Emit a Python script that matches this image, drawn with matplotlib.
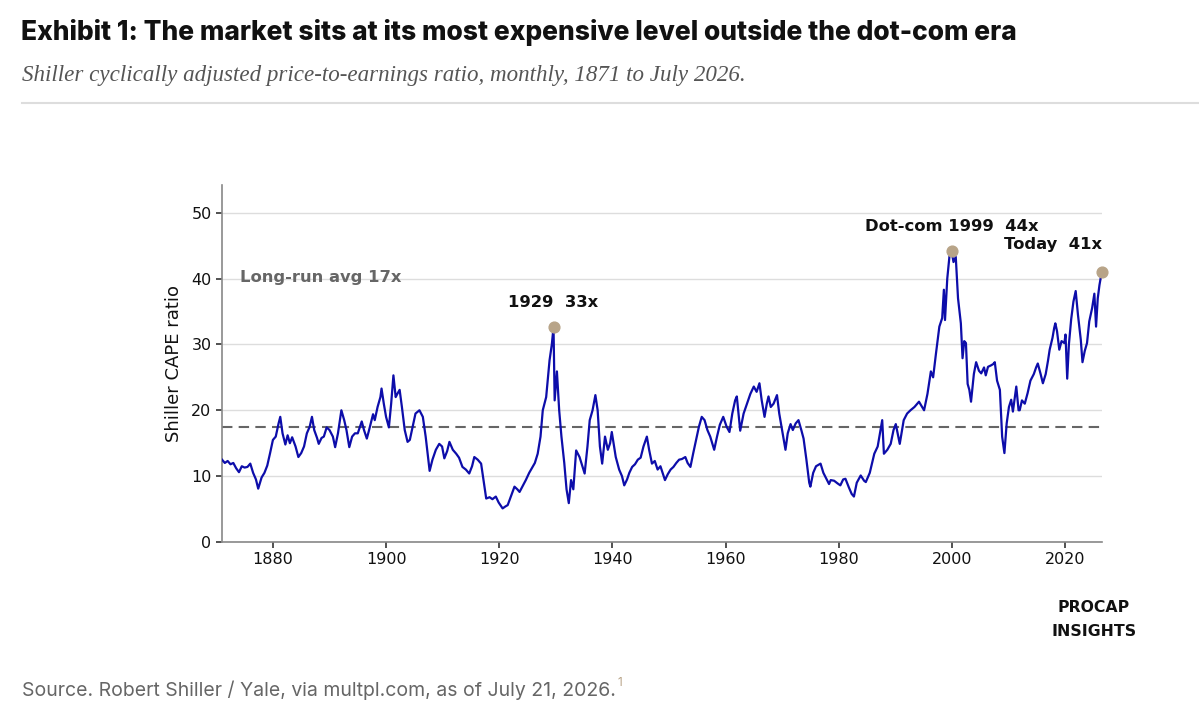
import matplotlib
matplotlib.use("Agg")
import matplotlib.pyplot as plt

plt.rcParams["font.family"] = ["DejaVu Sans"]

# ---- data ----
years = [
    1871.0, 1871.5, 1872.0, 1872.5, 1873.0, 1873.5, 1874.0, 1874.5, 1875.0, 1875.5,
    1876.0, 1876.5, 1877.0, 1877.4, 1878.0, 1878.5, 1879.0, 1879.5, 1880.0, 1880.5,
    1881.0, 1881.3, 1881.7, 1882.2, 1882.6, 1883.0, 1883.4, 1884.0, 1884.5, 1885.0,
    1885.5, 1886.0, 1886.5, 1886.9, 1887.3, 1887.8, 1888.1, 1888.6, 1889.0, 1889.5,
    1890.0, 1890.6, 1891.0, 1891.5, 1892.1, 1892.6, 1893.0, 1893.5, 1894.0, 1894.5,
    1895.0, 1895.7, 1896.1, 1896.6, 1897.0, 1897.7, 1898.0, 1898.5, 1899.0, 1899.2,
    1899.6, 1900.0, 1900.5, 1900.9, 1901.3, 1901.7, 1902.0, 1902.4, 1902.8, 1903.3,
    1903.8, 1904.2, 1904.7, 1905.2, 1905.9, 1906.5, 1907.0, 1907.7, 1908.2, 1908.8,
    1909.4, 1909.9, 1910.3, 1910.8, 1911.2, 1911.8, 1912.4, 1912.9, 1913.5, 1914.1,
    1914.7, 1915.2, 1915.6, 1916.2, 1916.8, 1917.2, 1917.7, 1918.3, 1918.8, 1919.4,
    1919.9, 1920.6, 1921.1, 1921.5, 1922.1, 1922.7, 1923.2, 1923.6, 1924.2, 1924.7,
    1925.3, 1925.9, 1926.3, 1926.8, 1927.3, 1927.7, 1928.3, 1928.9, 1929.3, 1929.6,
    1929.8, 1930.2, 1930.6, 1931.0, 1931.5, 1931.9, 1932.3, 1932.7, 1933.1, 1933.6,
    1934.2, 1934.7, 1935.1, 1935.6, 1936.0, 1936.5, 1937.0, 1937.4, 1937.8, 1938.2,
    1938.7, 1939.2, 1939.6, 1939.9, 1940.3, 1940.6, 1941.2, 1941.7, 1942.1, 1942.6,
    1943.0, 1943.5, 1944.0, 1944.5, 1945.0, 1945.5, 1946.1, 1946.5, 1947.0, 1947.5,
    1948.0, 1948.5, 1949.3, 1949.8, 1950.3, 1950.8, 1951.3, 1951.8, 1952.3, 1952.9,
    1953.3, 1953.8, 1954.3, 1954.8, 1955.3, 1955.8, 1956.3, 1956.8, 1957.3, 1958.0,
    1958.5, 1959.0, 1959.6, 1960.2, 1960.7, 1961.2, 1961.7, 1962.0, 1962.6, 1963.2,
    1963.8, 1964.4, 1965.0, 1965.5, 1966.0, 1966.4, 1966.9, 1967.3, 1967.6, 1968.0,
    1968.5, 1969.1, 1969.5, 1970.0, 1970.6, 1971.0, 1971.5, 1971.9, 1972.4, 1972.9,
    1973.4, 1973.8, 1974.3, 1974.8, 1975.0, 1975.5, 1976.0, 1976.8, 1977.3, 1977.9,
    1978.3, 1978.6, 1979.2, 1979.8, 1980.3, 1980.8, 1981.2, 1981.8, 1982.3, 1982.7,
    1983.2, 1983.9, 1984.5, 1984.8, 1985.5, 1986.3, 1986.9, 1987.7, 1988.0, 1988.6,
    1989.2, 1989.7, 1990.1, 1990.8, 1991.5, 1992.1, 1992.7, 1993.4, 1994.2, 1995.1,
    1995.7, 1996.3, 1996.7, 1997.2, 1997.8, 1998.3, 1998.6, 1998.8, 1999.2, 1999.6,
    1999.95, 2000.3, 2000.7, 2001.1, 2001.6, 2001.9, 2002.2, 2002.5, 2002.8, 2003.1,
    2003.4, 2003.9, 2004.3, 2004.8, 2005.2, 2005.7, 2006.0, 2006.4, 2006.9, 2007.3,
    2007.6, 2008.0, 2008.5, 2008.9, 2009.3, 2009.7, 2010.1, 2010.5, 2010.8, 2011.4,
    2011.8, 2012.0, 2012.4, 2012.9, 2013.4, 2013.9, 2014.5, 2014.9, 2015.2, 2015.7,
    2016.1, 2016.6, 2017.0, 2017.3, 2017.8, 2018.1, 2018.3, 2018.6, 2019.0, 2019.4,
    2019.9, 2020.1, 2020.4, 2020.7, 2021.1, 2021.5, 2021.9, 2022.3, 2022.8, 2023.1,
    2023.5, 2023.9, 2024.3, 2024.8, 2025.2, 2025.5, 2025.8, 2026.1, 2026.3, 2026.55,
]
cape = [
    12.5, 12.0, 12.3, 11.8, 12.0, 11.2, 10.6, 11.5, 11.3, 11.4,
    11.9, 10.5, 9.5, 8.1, 9.8, 10.5, 11.6, 13.5, 15.5, 16.0,
    18.0, 19.0, 16.5, 14.8, 16.2, 15.0, 15.9, 14.5, 12.9, 13.5,
    14.5, 16.5, 17.5, 19.0, 17.0, 15.8, 14.9, 15.8, 16.0, 17.4,
    17.0, 16.0, 14.4, 16.5, 20.0, 18.5, 17.0, 14.4, 16.0, 16.5,
    16.5, 18.3, 17.0, 15.7, 17.0, 19.4, 18.5, 20.5, 22.0, 23.3,
    21.0, 19.0, 17.4, 21.0, 25.3, 22.0, 22.5, 23.1, 20.5, 17.0,
    15.2, 15.5, 17.5, 19.5, 20.0, 19.0, 16.0, 10.8, 12.5, 14.0,
    14.9, 14.5, 12.7, 13.8, 15.2, 14.0, 13.4, 12.8, 11.4, 11.0,
    10.4, 11.5, 12.9, 12.5, 11.9, 9.5, 6.6, 6.8, 6.5, 6.9,
    6.0, 5.1, 5.4, 5.6, 7.0, 8.4, 8.0, 7.6, 8.6, 9.4,
    10.5, 11.4, 12.0, 13.4, 16.0, 20.0, 22.0, 27.6, 30.0, 32.6,
    21.5, 25.9, 20.0, 16.0, 12.0, 8.0, 5.9, 9.4, 8.0, 13.9,
    12.9, 11.5, 10.4, 14.5, 18.5, 20.0, 22.3, 20.0, 14.5, 11.9,
    16.0, 14.0, 15.0, 16.7, 14.5, 12.9, 11.0, 10.0, 8.6, 9.5,
    10.5, 11.4, 11.8, 12.5, 12.8, 14.5, 16.0, 14.0, 11.9, 12.3,
    11.0, 11.5, 9.4, 10.3, 11.0, 11.4, 12.0, 12.5, 12.6, 12.9,
    12.0, 11.4, 13.5, 15.5, 17.5, 19.0, 18.5, 17.0, 16.0, 14.0,
    16.0, 17.8, 19.0, 17.5, 16.7, 19.5, 21.5, 22.1, 16.9, 19.5,
    21.0, 22.5, 23.6, 22.8, 24.1, 21.5, 19.0, 21.0, 22.1, 20.5,
    21.0, 22.3, 19.5, 17.0, 14.0, 16.5, 17.9, 17.0, 18.0, 18.5,
    17.0, 15.7, 12.5, 9.0, 8.4, 10.5, 11.5, 11.9, 10.5, 9.5,
    8.8, 9.4, 9.3, 8.9, 8.6, 9.5, 9.6, 8.3, 7.3, 6.9,
    9.0, 10.1, 9.3, 9.1, 10.5, 13.4, 14.5, 18.5, 13.4, 14.0,
    14.9, 17.0, 17.9, 14.9, 18.5, 19.5, 20.0, 20.5, 21.3, 20.0,
    22.5, 25.9, 25.0, 28.6, 32.7, 34.0, 38.3, 33.7, 40.0, 43.5,
    44.2, 42.5, 43.3, 37.0, 33.2, 27.9, 30.5, 30.2, 24.0, 23.1,
    21.3, 25.5, 27.3, 26.0, 25.6, 26.5, 25.3, 26.6, 26.8, 27.0,
    27.3, 24.5, 23.1, 16.0, 13.5, 18.0, 20.5, 21.6, 19.8, 23.6,
    20.0, 20.0, 21.5, 21.0, 22.6, 24.5, 25.5, 26.5, 27.1, 25.5,
    24.1, 25.5, 27.5, 29.2, 31.0, 32.5, 33.2, 32.0, 29.2, 30.5,
    30.2, 31.5, 24.8, 30.0, 33.8, 36.5, 38.1, 34.5, 30.7, 27.3,
    29.0, 30.2, 33.5, 35.5, 37.7, 32.7, 37.0, 39.0, 40.0, 41.0,
]
long_run_avg = 17.4
highlight_years = [1929.6, 1999.95, 2026.55]
highlight_vals = [32.6, 44.2, 41.0]
highlight_labels = ["1929  33x", "Dot-com 1999  44x", "Today  41x"]
y_ticks = [0, 10, 20, 30, 40, 50]
x_ticks = [1880, 1900, 1920, 1940, 1960, 1980, 2000, 2020]

title = "Exhibit 1: The market sits at its most expensive level outside the dot-com era"
subtitle = "Shiller cyclically adjusted price-to-earnings ratio, monthly, 1871 to July 2026."
source = "Source. Robert Shiller / Yale, via multpl.com, as of July 21, 2026."

# ---- figure ----
fig = plt.figure(figsize=(11.99, 7.24), dpi=100)
fig.patch.set_facecolor("white")

W, H = 1199, 724
def fx(px):
    return px / W
def fy(py):
    return 1 - py / H

fig.text(fx(21), fy(32), title, fontsize=19, fontweight="heavy",
         family="Inter", color="#111111", va="center", ha="left")
fig.text(fx(22), fy(75), subtitle, fontsize=16.6, style="italic",
         family="Liberation Serif", color="#555555", va="center", ha="left")
fig.add_artist(plt.Line2D([fx(22), fx(1199)], [fy(103), fy(103)],
                          color="#dddddd", linewidth=1.5, transform=fig.transFigure))

ax = fig.add_axes([fx(222), fy(542), fx(1102) - fx(222), fy(185) - fy(542)])
ax.plot(years, cape, color="#0d0daa", linewidth=1.6, zorder=3)
ax.axhline(long_run_avg, color="#666666", linestyle=(0, (5, 3)), linewidth=1.5, zorder=2)
ax.scatter(highlight_years, highlight_vals, s=60, color="#b8a488", zorder=4, clip_on=False)

ax.set_xlim(1871, 2026.55)
ax.set_ylim(0, 54.2)
ax.set_yticks(y_ticks)
ax.set_xticks(x_ticks)
ax.grid(axis="y", color="#dddddd", linewidth=1.0)
ax.set_axisbelow(True)
for s in ["top", "right"]:
    ax.spines[s].set_visible(False)
for s in ["left", "bottom"]:
    ax.spines[s].set_color("#888888")
    ax.spines[s].set_linewidth(1.2)
ax.tick_params(axis="both", labelsize=11.5, color="#333333", length=4, width=1.2,
               labelcolor="#111111")
ax.set_ylabel("Shiller CAPE ratio", fontsize=13, color="#111111", labelpad=6)

# annotations (positions in data coords relative to the marked points)
ax.text(highlight_years[0], 36.4, highlight_labels[0], fontsize=11.8, fontweight="bold",
        ha="center", va="center", color="#111111")
ax.text(highlight_years[1], 47.9, highlight_labels[1], fontsize=11.8, fontweight="bold",
        ha="center", va="center", color="#111111", clip_on=False)
ax.text(highlight_years[2], 45.1, highlight_labels[2], fontsize=11.8, fontweight="bold",
        ha="right", va="center", color="#111111", clip_on=False)
ax.text(1874.1, 40.2, f"Long-run avg {round(long_run_avg)}x", fontsize=11.8,
        fontweight="bold", ha="left", va="center", color="#666666")

fig.text(fx(1094), fy(608), "PROCAP", fontsize=11.3, fontweight="bold",
         ha="center", va="center", color="#111111")
fig.text(fx(1094), fy(632), "INSIGHTS", fontsize=11.3, fontweight="bold",
         ha="center", va="center", color="#111111")

src = fig.text(fx(22), fy(690), source, fontsize=14, family="Inter",
               color="#666666", ha="left", va="center")
fig.canvas.draw()
bb = src.get_window_extent()
fig.text(bb.x1 / W + 0.001, fy(683), "1", fontsize=8.5, family="Inter",
         color="#b8a488", ha="left", va="center")

fig.savefig("out.png", dpi=100, facecolor="white")
